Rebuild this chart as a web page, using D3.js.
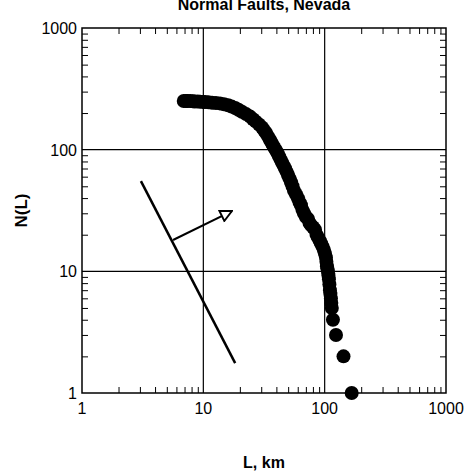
<!DOCTYPE html>
<html><head><meta charset="utf-8">
<script src="https://cdn.jsdelivr.net/npm/d3@7"></script>
<style>body{margin:0;background:#fff}text{font-family:"Liberation Sans",Arial,sans-serif}</style>
</head><body><div id="chart"></div>
<script>
// fault lengths (km) and cumulative count
const lengths = [6.9,7.2,7.4,7.8,8.2,8.5,9.0,9.4,9.9,10.3,11.0,11.8,12.7,13.7,14.8,16.0,17.1,18.3,19.5,20.8,22.5,24.3,25.7,27.1,28.8,30.5,31.7,32.9,34.2,35.5,36.5,37.6,38.7,39.8,41.0,42.1,43.3,44.6,45.9,47.2,48.5,49.9,51.3,52.8,54.3,55.9,58.0,60.2,62.0,63.8,65.6,67.5,70.2,72.9,75.0,77.1,80.2,83.3,85.7,88.1,90.6,93.2,95.9,98.6,100.5,102.5,103.4,104.4,105.4,106.4,107.4,108.4,109.4,110.5,111.5,112.6,113.5,114.5,117,124,143,167];
const counts  = [251,251,251,251,250,249,249,248,247,246,245,243,242,240,236,232,226,220,213,205,196,187,178,170,161,152,144,137,128,120,114,108,103,98,93,88,83,78,74,70,66,62,58,54,50,46,43,40,37,35,32,30,28,27,25,24,23,22,20,19,18,17,16,15,14,13,12,11,10.5,10,9.3,8.6,7.8,7,6.5,6,5.5,5,4,3,2,1];
const tickVals = [1,10,100,1000];
const slopeLine = [[3.06,55.2],[18.3,1.76]];
const arrowLine = [[5.63,18.1],[17.2,31.3]];

const W = 474, H = 474;
const m = {left:82, right:28, top:28, bottom:81};
const svg = d3.select("#chart").append("svg").attr("width",W).attr("height",H);
const x = d3.scaleLog().domain([1,1000]).range([m.left, W-m.right]);
const y = d3.scaleLog().domain([1,1000]).range([H-m.bottom, m.top]);

// grid at decades
svg.append("g").selectAll("line").data(tickVals.slice(1,3)).enter().append("line")
  .attr("x1",d=>x(d)).attr("x2",d=>x(d)).attr("y1",y(1)).attr("y2",y(1000))
  .attr("stroke","#000").attr("stroke-width",1.2);
svg.append("g").selectAll("line").data(tickVals.slice(1,3)).enter().append("line")
  .attr("y1",d=>y(d)).attr("y2",d=>y(d)).attr("x1",x(1)).attr("x2",x(1000))
  .attr("stroke","#000").attr("stroke-width",1.2);

// minor ticks, pointing inward
const minor = [];
[1,10,100].forEach(d=>{for(let k=2;k<10;k++) minor.push(d*k);});
const noDomain = g=>g.select(".domain").remove();
svg.append("g").attr("transform",`translate(0,${y(1)})`).call(d3.axisBottom(x).tickValues(minor).tickSize(-6).tickFormat("")).call(noDomain);
svg.append("g").attr("transform",`translate(0,${y(1000)})`).call(d3.axisTop(x).tickValues(minor).tickSize(-6).tickFormat("")).call(noDomain);
svg.append("g").attr("transform",`translate(${x(1)},0)`).call(d3.axisLeft(y).tickValues(minor).tickSize(-6).tickFormat("")).call(noDomain);
svg.append("g").attr("transform",`translate(${x(1000)},0)`).call(d3.axisRight(y).tickValues(minor).tickSize(-6).tickFormat("")).call(noDomain);

// frame
svg.append("rect").attr("x",x(1)).attr("y",y(1000)).attr("width",x(1000)-x(1)).attr("height",y(1)-y(1000))
  .attr("fill","none").attr("stroke","#000").attr("stroke-width",1.5);

// tick labels
svg.append("g").selectAll("text").data(tickVals).enter().append("text")
  .attr("x",d=>x(d)).attr("y",y(1)+21).attr("text-anchor","middle").attr("font-size",16).text(d=>d);
svg.append("g").selectAll("text").data(tickVals).enter().append("text")
  .attr("x",x(1)-5).attr("y",d=>y(d)+6).attr("text-anchor","end").attr("font-size",16).text(d=>d);

// slope line and arrow
const line = d3.line().x(d=>x(d[0])).y(d=>y(d[1]));
svg.append("path").attr("d",line(slopeLine)).attr("stroke","#000").attr("stroke-width",2.5).attr("fill","none");
svg.append("defs").append("marker").attr("id","ah").attr("viewBox","0 0 10 10").attr("refX",9).attr("refY",5)
  .attr("markerUnits","userSpaceOnUse").attr("orient","auto")
  .attr("markerWidth",14).attr("markerHeight",14)
  .append("path").attr("d","M1,1L9,5L1,9Z").attr("fill","#fff").attr("stroke","#000").attr("stroke-width",1.4);
svg.append("path").attr("d",line(arrowLine)).attr("stroke","#000").attr("stroke-width",2).attr("fill","none").attr("marker-end","url(#ah)");

// data points
svg.append("g").selectAll("circle").data(lengths).enter().append("circle")
  .attr("cx",d=>x(d)).attr("cy",(d,i)=>y(counts[i])).attr("r",7).attr("fill","#000");

// titles
svg.append("text").attr("x",x(31.6)).attr("y",10).attr("text-anchor","middle").attr("font-size",16).attr("font-weight","bold").text("Normal Faults, Nevada");
svg.append("text").attr("x",x(31.6)).attr("y",468).attr("text-anchor","middle").attr("font-size",16).attr("font-weight","bold").text("L, km");
svg.append("text").attr("transform",`translate(27,${y(31.6)}) rotate(-90)`).attr("text-anchor","middle").attr("font-size",17).attr("font-weight","bold").text("N(L)");
</script></body></html>
